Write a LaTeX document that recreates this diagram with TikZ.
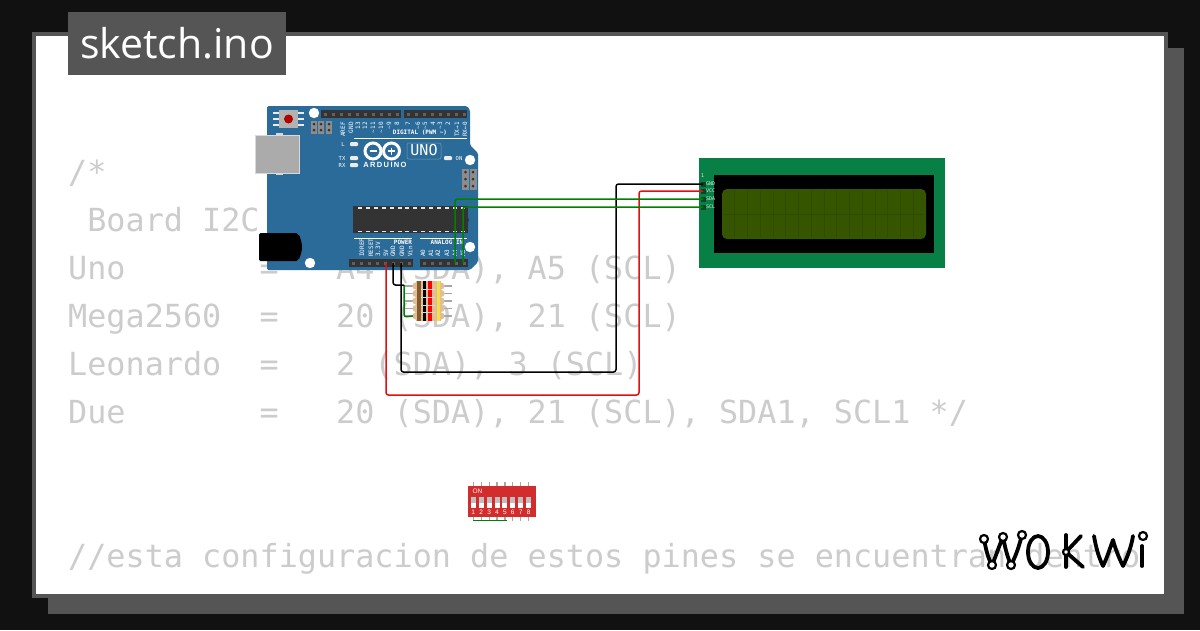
\documentclass[tikz,border=0pt]{standalone}
\usepackage{fontspec}
\setmainfont{Liberation Sans}
\setmonofont{DejaVu Sans Mono}
\newfontfamily\titlefont{Open Sans}
\newfontfamily\ardfont[LetterSpace=18]{Liberation Sans}
\usetikzlibrary{calc}
\definecolor{bgdark}{HTML}{111111}
\definecolor{framegray}{HTML}{555555}
\definecolor{codegray}{HTML}{CCCCCC}
\definecolor{boardblue}{HTML}{2B6B99}
\definecolor{headerdark}{HTML}{333333}
\definecolor{pinsq}{HTML}{606060}
\definecolor{wiregreen}{HTML}{008000}
\definecolor{wirered}{HTML}{E01010}
\definecolor{lcdgreen}{HTML}{087F45}
\definecolor{lcdscreen}{HTML}{365500}
\definecolor{dipred}{HTML}{D22C2C}
\definecolor{restan}{HTML}{E0BE98}
\tikzset{
  x=1pt,y=-1pt,
  code/.style={anchor=base west,inner sep=0,text=codegray,font=\fontsize{31.8}{32}\selectfont\ttfamily},
  wire/.style={line width=1.5pt,rounded corners=2.5pt},
  pinlabel/.style={rotate=90,inner sep=0,text=white,font=\fontsize{6}{6}\selectfont\ttfamily,anchor=center},
  boardtext/.style={inner sep=0,text=white,font=\fontsize{6}{6}\selectfont\ttfamily\bfseries},
  hole/.style={fill=white,draw=none},
  ledbox/.style={fill=white!85!gray,rounded corners=1pt,draw=none},
  logo/.style={line width=3.8pt,draw=black,line cap=round,line join=round},
  logodot/.style={circle,draw=black,fill=white,line width=2.2pt,minimum size=8pt,inner sep=0},
  lcdlabel/.style={inner sep=0,anchor=west,text=white!85!lcdgreen,font=\fontsize{5}{5}\selectfont\ttfamily},
  diplabel/.style={inner sep=0,text=white,font=\fontsize{6.5}{6.5}\selectfont},
  lead/.style={line width=1.2pt,draw=black!35},
}
\begin{document}
\begin{tikzpicture}
\useasboundingbox (0,0) rectangle (1200,630);
\fill[bgdark] (0,0) rectangle (1200,630);
\fill[framegray] (48,48) rectangle (1184,614);
\fill[white,draw=framegray,line width=4pt] (34,34) rectangle (1166,596);
\begin{scope}
\clip (36,36) rectangle (1164,594);
\node[code] at (68,183) {/*};
\node[code] at (68,231) {\ Board I2C};
\node[code] at (68,279) {Uno\ \ \ \ \ \ \ =\ \ \ A4 (SDA), A5 (SCL)};
\node[code] at (68,327) {Mega2560\ \ =\ \ \ 20 (SDA), 21 (SCL)};
\node[code] at (68,375) {Leonardo\ \ =\ \ \ 2 (SDA), 3 (SCL)};
\node[code] at (68,423) {Due\ \ \ \ \ \ \ =\ \ \ 20 (SDA), 21 (SCL), SDA1, SCL1 */};
\node[code] at (68,567) {//esta configuracion de estos pines se encuentran dentro};
\end{scope}
\fill[framegray] (68,12) rectangle (286,75);
\node[inner sep=0,text=white,font=\titlefont\fontsize{41}{41}\selectfont] (title) at (177,43) {sketch.ino};

% Arduino board
\fill[boardblue,rounded corners=1.5pt] (267,106) -- (467,106) -- (470,110) -- (470,145) -- (478,153) -- (478,262) -- (470,270) -- (267,270) -- cycle;
\foreach \yy in {113,119,125} {\draw[white!85!gray,line width=1.3pt] (273,\yy) -- (304,\yy);}
\fill[black!30!white] (279,110) rectangle (298,128);
\fill[red!70!black] (288.5,119) circle (4.5);
\fill[hole] (314,113) circle (5.2);
\fill[hole] (470,160) circle (5.2);
\fill[hole] (470,247) circle (5.2);
\fill[hole] (310,263) circle (5.2);
% headers
\fill[headerdark] (321,110) rectangle (401,118);
\fill[headerdark] (404,110) rectangle (467,118);
\fill[headerdark] (349,259) rectangle (413,267);
\fill[headerdark] (420,259) rectangle (468,267);
\foreach \i in {0,...,9} {\fill[pinsq] ({325+\i*8-1.5},112.5) rectangle ++(3,3);}
\foreach \i in {0,...,7} {\fill[pinsq] ({408+\i*8-1.5},112.5) rectangle ++(3,3);}
\foreach \i in {0,...,7} {\fill[pinsq] ({353+\i*8-1.5},261.5) rectangle ++(3,3);}
\foreach \i in {0,...,5} {\fill[pinsq] ({424+\i*8-1.5},261.5) rectangle ++(3,3);}
% ICSP
\foreach \xx in {314,321,329} \foreach \yy in {124,130} {\fill[black!45] ({\xx-3},{\yy-3.5}) rectangle ++(6,7); \fill[black!80] (\xx,\yy) circle (1.5);}
\foreach \xx in {465.5,473} \foreach \yy in {172,179,186} {\fill[black!45] ({\xx-3.5},{\yy-3.5}) rectangle ++(7,7); \fill[black!80] (\xx,\yy) circle (1.5);}
% USB and jack
\fill[black!15] (276,133) rectangle (283,175);
\fill[black!33,draw=black!15,line width=.8pt] (255,135.5) rectangle (299,173);
\fill[black] (295,235) -- (299,235) to[bend left=25] (299,259) -- (295,259) -- cycle;
\fill[black,rounded corners=1.5pt] (259,233) rectangle (298,261);
% chip
\fill[headerdark] (353,206) rectangle (468,233);
\foreach \i in {0,...,13} {\fill[white!80!gray] ({358+\i*7.9},207) rectangle ++(4,1.5); \fill[white!80!gray] ({358+\i*7.9},230.5) rectangle ++(4,1.5);}
\fill[black!80] (369,220) circle (3);
\fill[black!80] (451,220) circle (3);
\fill[black!80] (466,220) circle (3);
% logo
\draw[white,line width=3pt] (373,151) circle (8);
\draw[white,line width=3pt] (391.5,151) circle (8);
\draw[white,line width=1.2pt] (369.5,151) -- (376.5,151);
\draw[white,line width=1.2pt] (388,151) -- (395,151) (391.5,147.5) -- (391.5,154.5);
\draw[white!35!boardblue,line width=.5pt,rounded corners=2pt] (407,143) rectangle (441,159);
\node[inner sep=0,text=white,font=\fontsize{15}{15}\selectfont\ttfamily] (uno) at (424,150.5) {UNO};
\node[inner sep=0,text=white,font=\ardfont\fontsize{7.5}{7.5}\selectfont\bfseries] (ard) at (385,165) {ARDUINO};
\draw[white,line width=.6pt] (354,138) -- (467,138);
\draw[white,line width=.6pt] (420,238) -- (467,238) (354,238) -- (412,238);
% leds
\fill[ledbox] (350,142) rectangle (358,146);
\fill[ledbox] (350,156) rectangle (358,160);
\fill[ledbox] (350,163) rectangle (358,167);
\fill[ledbox] (444,156) rectangle (452,160);
\node[boardtext,font=\fontsize{5.5}{5.5}\selectfont\ttfamily] (lL) at (343,144) {L};
\node[boardtext,font=\fontsize{5.5}{5.5}\selectfont\ttfamily] (lTX) at (342,158) {TX};
\node[boardtext,font=\fontsize{5.5}{5.5}\selectfont\ttfamily] (lRX) at (342,165) {RX};
\node[boardtext,font=\fontsize{5.5}{5.5}\selectfont\ttfamily] (lON) at (459,158) {ON};
\node[boardtext] (dig) at (420,133) {DIGITAL (PWM \textasciitilde)};
\node[boardtext] (pw) at (403,242.5) {POWER};
\node[boardtext] (an) at (447,242.5) {ANALOG IN};
\foreach \xx/\tt in {343/AREF,351/GND,358/13,365/12,373/\textasciitilde 11,381/\textasciitilde 10,389/\textasciitilde 9,397/8,408/7,418/\textasciitilde 6,425/\textasciitilde 5,433/4,440/\textasciitilde 3,448/2,457/TX→1,465/RX←0}
  {\node[pinlabel,anchor=east] at (\xx,122) {\tt};}
\foreach \xx/\tt in {362/IOREF,371/RESET,378/3.3V,386/5V,393/GND,402/GND,410/Vin,423/A0,431/A1,438/A2,447/A3,455/A4,463/A5}
  {\node[pinlabel,anchor=west] at (\xx,257) {\tt};}

% resistors
\foreach \yy in {286,293.5,301,308.5,316} {
  \draw[lead] (404,\yy) -- (452,\yy);
}
\foreach \yy in {286,293.5,301,308.5,316} {
  \fill[restan] (416,{\yy-3.6}) rectangle (441,{\yy+3.6});
  \fill[restan] (416,\yy) circle (3.6) (441,\yy) circle (3.6);
}
\fill[restan] (416,281) rectangle (441,321);
\fill[brown!70!black] (417,281) rectangle (420.5,321);
\fill[black] (422.5,281) rectangle (425.5,321);
\fill[red] (428,281) rectangle (431.5,321);
\fill[yellow!60!restan] (436.5,281) rectangle (440,321);
\foreach \yy in {289.5,297,305,312.5} {\draw[white!70!gray,line width=.5pt] (421,\yy) -- (435,\yy);}

% LCD
\fill[lcdgreen] (699,158) rectangle (945,268);
\fill[black] (714,175) rectangle (934,253);
\fill[lcdscreen,rounded corners=5pt] (722,189) rectangle (926,239);
\foreach \i in {1,...,15} {\draw[black!10!lcdscreen,line width=.8pt] ({722+\i*12.75},191) -- ({722+\i*12.75},237);}
\draw[black!10!lcdscreen,line width=.8pt] (724,214) -- (924,214);
\node[lcdlabel] (l1) at (701,176) {1};
\foreach \yy/\nm/\lb in {184/pgnd/GND,191/pvcc/VCC,199/psda/SDA,207/pscl/SCL} {
  \fill[black!45!lcdgreen] (700.5,{\yy-2.5}) rectangle (705.5,{\yy+2.5});
  \coordinate (\nm) at (703,\yy);
  \node[lcdlabel] at (706,\yy) {\lb};
}

% wire anchors
\coordinate (a5v) at (386,263);
\coordinate (agnda) at (393,263);
\coordinate (agndb) at (401,263);
\coordinate (aa4) at (455,263);
\coordinate (aa5) at (463,263);
\coordinate (resa) at (404,285);
\coordinate (resb) at (413,316);
% wires
\draw[wire,black] (agndb) -- (401,372) -- (616,372) -- (616,184) -- (pgnd);
\draw[wire,wirered] (a5v) -- (386,395) -- (639,395) -- (639,191) -- (pvcc);
\draw[wire,wiregreen] (aa4) -- (455,199) -- (psda);
\draw[wire,wiregreen] (aa5) -- (463,207) -- (pscl);
\draw[wire,wiregreen] (resa) -- (404,317) -- (resb);
\draw[wire,black] (agnda) -- (393,285) -- (resa);

% DIP switch
\foreach \i in {0,...,7} {\draw[lead] ({473.3+\i*7.9},482) -- ({473.3+\i*7.9},521);}
\fill[dipred] (468,486) rectangle (536,517);
\foreach \i in {0,...,7} {
  \fill[black!25] ({470.8+\i*7.9},497) rectangle ++(5,6);
  \fill[white] ({470.8+\i*7.9},503) rectangle ++(5,5);
  \pgfmathtruncatemacro{\lab}{\i+1}
  \node[diplabel] at ({473.3+\i*7.9},512.5) {\lab};
}
\node[diplabel] (don) at (477.5,491.5) {ON};
\coordinate (dipa) at (473.3,520.5);
\coordinate (dipb) at (507,520.5);
\draw[wire,wiregreen] (dipa) -- (dipb);

% Wokwi logo
\draw[logo] (984,539) .. controls (986,550) and (988,558) .. (992,565) .. controls (996,556) and (999,546) .. (1003,537) .. controls (1005,547) and (1007,556) .. (1011,565) .. controls (1016,556) and (1019,546) .. (1022,535);
\draw[logo] (1038,552) ellipse (10 and 16);
\draw[logo] (1066,535) -- (1066,567);
\draw[logo] (1081,536) -- (1066,552) -- (1083,567);
\draw[logo] (1094,536) .. controls (1096,548) and (1099,558) .. (1103,566) .. controls (1107,558) and (1110,548) .. (1113,540) .. controls (1115,548) and (1119,558) .. (1123,566) .. controls (1127,558) and (1131,548) .. (1133,536);
\draw[logo] (1142,546) -- (1142,566);
\node[logodot] (w1) at (984,539) {};
\node[logodot] (w2) at (992,565) {};
\node[logodot] (w3) at (1003,537) {};
\node[logodot] (w4) at (1011,565) {};
\node[logodot] (w5) at (1022,535) {};
\node[logodot,minimum size=6pt] (k1) at (1066,552) {};
\node[logodot] (i1) at (1143,536) {};
\end{tikzpicture}
\end{document}
